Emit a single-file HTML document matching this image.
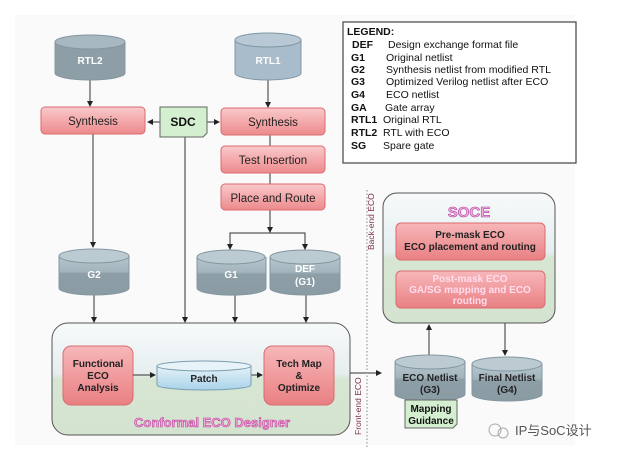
<!DOCTYPE html>
<html><head><meta charset="utf-8"><style>
body{margin:0;background:#fff}
svg{display:block;font-family:"Liberation Sans","Noto Sans CJK SC",sans-serif}
</style></head><body>
<svg width="622" height="455" viewBox="0 0 622 455">
<defs>
<linearGradient id="pk" x1="0" y1="0" x2="0" y2="1"><stop offset="0" stop-color="#f9c9cb"/><stop offset="0.5" stop-color="#f4a9ab"/><stop offset="1" stop-color="#ec8a8d"/></linearGradient>
<linearGradient id="pk2" x1="0" y1="0" x2="0" y2="1"><stop offset="0" stop-color="#f7b7b9"/><stop offset="1" stop-color="#e98083"/></linearGradient>
<linearGradient id="bx" x1="0" y1="0" x2="0" y2="1"><stop offset="0" stop-color="#f7fafb"/><stop offset="0.45" stop-color="#e6eef0"/><stop offset="0.5" stop-color="#d7e6d3"/><stop offset="1" stop-color="#d4e3cf"/></linearGradient>
<linearGradient id="cy" x1="0" y1="0" x2="0" y2="1"><stop offset="0" stop-color="#b6c6ce"/><stop offset="0.4" stop-color="#a3b4bd"/><stop offset="0.45" stop-color="#8d9ea7"/><stop offset="1" stop-color="#8a9ba4"/></linearGradient>
<linearGradient id="pt" x1="0" y1="0" x2="0" y2="1"><stop offset="0" stop-color="#e6f2f8"/><stop offset="1" stop-color="#a9d3ea"/></linearGradient>
<marker id="a" markerWidth="6" markerHeight="6" refX="5" refY="3" orient="auto"><path d="M0,0L6,3L0,6z" fill="#222"/></marker>
</defs>
<rect x="15" y="15" width="560" height="430" fill="#fafafa"/>
<!-- legend -->
<rect x="343" y="22" width="233" height="141" fill="#fff" stroke="#444" stroke-width="1.2"/>
<g font-size="10.5" fill="#111">
<text x="347" y="35" font-weight="bold">LEGEND:</text>
<g font-weight="bold"><text x="352" y="48">DEF</text><text x="351" y="61">G1</text><text x="351" y="73">G2</text><text x="351" y="85">G3</text><text x="351" y="98">G4</text><text x="351" y="111">GA</text><text x="351" y="123">RTL1</text><text x="351" y="136">RTL2</text><text x="351" y="149">SG</text></g>
<text x="388" y="48">Design exchange format file</text><text x="386" y="61">Original netlist</text><text x="386" y="73">Synthesis netlist from modified RTL</text><text x="386" y="85">Optimized Verilog netlist after ECO</text><text x="386" y="98">ECO netlist</text><text x="385" y="111">Gate array</text><text x="383" y="123">Original RTL</text><text x="383" y="136">RTL with ECO</text><text x="383" y="149">Spare gate</text>
</g>
<!-- connectors -->
<g stroke="#333" stroke-width="1" fill="none">
<line x1="90" y1="80" x2="90" y2="106" marker-end="url(#a)"/>
<line x1="268" y1="80" x2="268" y2="107" marker-end="url(#a)"/>
<line x1="160" y1="122" x2="148" y2="122" marker-end="url(#a)"/>
<line x1="207" y1="122" x2="219" y2="122" marker-end="url(#a)"/>
<line x1="93" y1="134" x2="93" y2="247" marker-end="url(#a)"/>
<line x1="185" y1="137" x2="185" y2="322" marker-end="url(#a)"/>
<line x1="270" y1="135" x2="270" y2="146"/><line x1="270" y1="173" x2="270" y2="184"/>
<line x1="270" y1="210" x2="270" y2="232" marker-end="url(#a)"/>
<path d="M230 250V233H305V250" /><line x1="230" y1="240" x2="230" y2="249" marker-end="url(#a)"/><line x1="305" y1="240" x2="305" y2="249" marker-end="url(#a)"/>
<line x1="94" y1="294" x2="94" y2="322" marker-end="url(#a)"/>
<line x1="235" y1="295" x2="235" y2="322" marker-end="url(#a)"/>
<line x1="306" y1="295" x2="306" y2="322" marker-end="url(#a)"/>
<line x1="350" y1="373" x2="381" y2="373" marker-end="url(#a)"/>
<line x1="429" y1="355" x2="429" y2="325" marker-end="url(#a)"/>
<line x1="505" y1="323" x2="505" y2="355" marker-end="url(#a)"/>
</g>
<line x1="367" y1="190" x2="367" y2="447" stroke="#888" stroke-dasharray="1.5,2"/>
<!-- cylinders -->
<g stroke="#8396a0" stroke-width="1">
<path d="M55 42V73A35 7 0 0 0 125 73V42" fill="#8d9ea7"/><ellipse cx="90" cy="42" rx="35" ry="7" fill="#a7b8c0"/>
<path d="M235 40V73A33 7 0 0 0 301 73V40" fill="#a9bccb" stroke="#7f95a3"/><ellipse cx="268" cy="40" rx="33" ry="7" fill="#b8c9d5" stroke="#7f95a3"/>
<path d="M59 256V288A35 7 0 0 0 129 288V256" fill="url(#cy)"/><ellipse cx="94" cy="256" rx="35" ry="7" fill="#bccbd2"/>
<path d="M197 257V288A34 7 0 0 0 266 288V257" fill="url(#cy)"/><ellipse cx="231" cy="257" rx="34" ry="7" fill="#bccbd2"/>
<path d="M270 257V288A35 7 0 0 0 340 288V257" fill="url(#cy)"/><ellipse cx="305" cy="257" rx="35" ry="7" fill="#bccbd2"/>
<path d="M395 362V394A35 7 0 0 0 465 394V362" fill="url(#cy)"/><ellipse cx="430" cy="362" rx="35" ry="7" fill="#bccbd2"/>
<path d="M472 364V394A35 7 0 0 0 542 394V364" fill="url(#cy)"/><ellipse cx="507" cy="364" rx="35" ry="7" fill="#bccbd2"/>
</g>
<g font-size="10" font-weight="bold" fill="#fff" text-anchor="middle">
<text x="90" y="64">RTL2</text><text x="268" y="64">RTL1</text><text x="94" y="278">G2</text><text x="231" y="278">G1</text><text x="305" y="272">DEF</text><text x="305" y="285">(G1)</text>
</g>
<g font-size="10" font-weight="bold" fill="#222" text-anchor="middle">
<text x="430" y="381">ECO Netlist</text><text x="430" y="393">(G3)</text><text x="507" y="381">Final Netlist</text><text x="507" y="393">(G4)</text>
</g>
<!-- pink boxes -->
<g stroke="#d96b6f" stroke-width="1" fill="url(#pk)">
<rect x="41" y="107" width="104" height="27" rx="4"/>
<rect x="221" y="108" width="104" height="27" rx="4"/>
<rect x="221" y="146" width="104" height="27" rx="4"/>
<rect x="221" y="184" width="104" height="26" rx="4"/>
</g>
<g font-size="11.5" fill="#222" text-anchor="middle">
<text x="93" y="125">Synthesis</text><text x="273" y="126">Synthesis</text><text x="273" y="164">Test Insertion</text><text x="273" y="202">Place and Route</text>
</g>
<path d="M160 107H207V133L203 137H160Z" fill="#d3efcf" stroke="#666"/>
<text x="183" y="126" font-size="12" font-weight="bold" text-anchor="middle" fill="#111">SDC</text>
<!-- Conformal -->
<rect x="52" y="323" width="298" height="112" rx="16" fill="url(#bx)" stroke="#555"/>
<rect x="63" y="346" width="70" height="59" rx="8" fill="url(#pk2)" stroke="#d96b6f"/>
<rect x="264" y="346" width="70" height="59" rx="8" fill="url(#pk2)" stroke="#d96b6f"/>
<g font-size="10" font-weight="bold" fill="#222" text-anchor="middle">
<text x="98" y="367">Functional</text><text x="98" y="379">ECO</text><text x="98" y="391">Analysis</text>
<text x="299" y="367">Tech Map</text><text x="299" y="379">&amp;</text><text x="299" y="391">Optimize</text>
</g>
<line x1="133" y1="375" x2="155" y2="375" stroke="#333" marker-end="url(#a)"/>
<line x1="250" y1="375" x2="262" y2="375" stroke="#333" marker-end="url(#a)"/>
<path d="M157 366V385A47 5 0 0 0 251 385V366" fill="url(#pt)" stroke="#7a9db0"/><ellipse cx="204" cy="366" rx="47" ry="5" fill="#e8f3f9" stroke="#7a9db0"/>
<text x="204" y="382" font-size="10" font-weight="bold" text-anchor="middle" fill="#222">Patch</text>
<text x="212" y="427" font-size="13" font-weight="bold" text-anchor="middle" fill="#f0a8d8" stroke="#c040a0" stroke-width="0.6">Conformal ECO Designer</text>
<text transform="translate(361,435) rotate(-90)" font-size="8.5" fill="#7a3050">Front-end ECO</text>
<text transform="translate(374,250) rotate(-90)" font-size="8.5" fill="#7a3050">Back-end ECO</text>
<!-- SOCE -->
<rect x="383" y="193" width="172" height="130" rx="14" fill="url(#bx)" stroke="#555"/>
<text x="469" y="217" font-size="15" font-weight="bold" text-anchor="middle" fill="#f0b0dc" stroke="#b040a0" stroke-width="0.6">SOCE</text>
<rect x="396" y="223" width="149" height="37" rx="5" fill="url(#pk2)" stroke="#d96b6f"/>
<rect x="396" y="271" width="149" height="37" rx="5" fill="url(#pk2)" stroke="#d96b6f"/>
<g font-size="10" font-weight="bold" text-anchor="middle">
<text x="470" y="238" fill="#222">Pre-mask ECO</text><text x="470" y="250" fill="#222">ECO placement and routing</text>
<text x="470" y="282" fill="#fde">Post-mask ECO</text><text x="470" y="293" fill="#fde">GA/SG mapping and ECO</text><text x="470" y="304" fill="#fde">routing</text>
</g>
<path d="M405 400H457V424L453 428H405Z" fill="#d3efcf" stroke="#666"/>
<g font-size="10" font-weight="bold" text-anchor="middle" fill="#111"><text x="431" y="412">Mapping</text><text x="431" y="424">Guidance</text></g>
<!-- watermark -->
<circle cx="495" cy="430" r="6" fill="none" stroke="#aaa"/><circle cx="503" cy="433" r="5" fill="none" stroke="#aaa"/>
<text x="515" y="435" font-size="13" fill="#555">IP与SoC设计</text>
</svg>
</body></html>
